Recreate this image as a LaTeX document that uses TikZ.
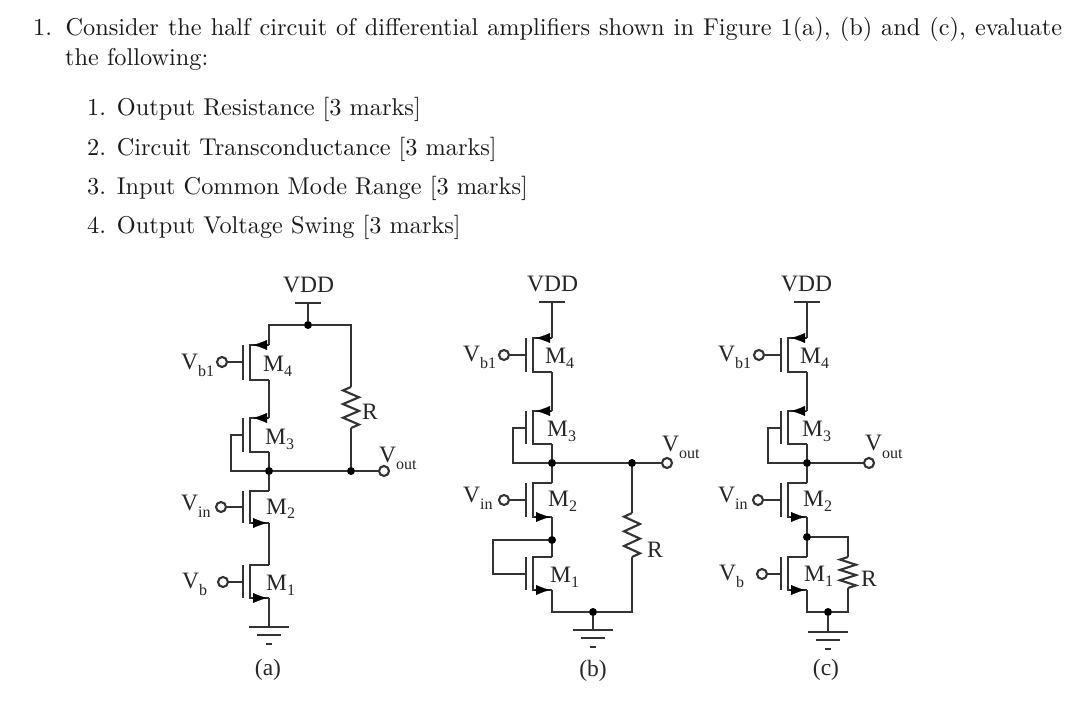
\documentclass[tikz,border=0pt]{standalone}
\usepackage{fontspec}
\usetikzlibrary{arrows.meta}
\newfontfamily\circfont{Liberation Serif}
\newfontfamily\headfont{lmroman10-regular.otf}
\newcommand{\Sig}[1]{V\raisebox{-7pt}{\fontsize{16}{16}\selectfont #1}}
\newcommand{\Dev}[1]{M\raisebox{-5pt}{\fontsize{16}{16}\selectfont #1}}
\tikzset{
	wire/.style={line width=2.1pt, draw=black!80},
	txt/.style={anchor=base west, inner sep=0pt, text=black!90, font=\headfont\fontsize{24.3}{28}\selectfont},
	lab/.style={anchor=base west, inner sep=0pt, text=black!85, font=\circfont\fontsize{23.5}{26}\selectfont},
	figcap/.style={inner sep=0pt, text=black!85, font=\circfont\fontsize{23.5}{26}\selectfont},
	jdot/.style={circle, fill=black, inner sep=0pt, minimum size=8pt},
	term/.style={circle, draw=black!80, fill=white, line width=2.1pt, inner sep=0pt, minimum size=10pt},
	srchead/.style={line width=.1pt, black, -{Latex[length=14pt,width=10pt]}},
}
% name, gate bar x, top y, bottom y
\newcommand{\Pmos}[4]{
	\coordinate (#1top) at (\fpeval{#2+26},#3);
	\coordinate (#1bot) at (\fpeval{#2+26},#4);
	\coordinate (#1gate) at (#2,\fpeval{round(0.5*(#3+#4))});
	\draw[wire] (#2,#3) -- (#2,#4);
	\draw[wire] (#1top) -- (\fpeval{#2+7},#3) -- (\fpeval{#2+7},#4) -- (#1bot);
	\draw[srchead] (\fpeval{#2+25},#3) -- (\fpeval{#2+10},#3);
}
\newcommand{\Nmos}[4]{
	\coordinate (#1top) at (\fpeval{#2+26},#3);
	\coordinate (#1bot) at (\fpeval{#2+26},#4);
	\coordinate (#1gate) at (#2,\fpeval{round(0.5*(#3+#4))});
	\draw[wire] (#2,#3) -- (#2,#4);
	\draw[wire] (#1top) -- (\fpeval{#2+7},#3) -- (\fpeval{#2+7},#4) -- (#1bot);
	\draw[srchead] (\fpeval{#2+9},#4) -- (\fpeval{#2+24},#4);
}
% name, x, top y, bottom y
\newcommand{\Res}[4]{
	\coordinate (#1top) at (#2,#3);
	\coordinate (#1bot) at (#2,#4);
	\draw[wire] (#1top) -- ++(-8,\fpeval{(#4-#3)/12}) -- ++(16,\fpeval{(#4-#3)/6})
		-- ++(-16,\fpeval{(#4-#3)/6}) -- ++(16,\fpeval{(#4-#3)/6})
		-- ++(-16,\fpeval{(#4-#3)/6}) -- ++(16,\fpeval{(#4-#3)/6}) -- (#1bot);
}
% name, x, y
\newcommand{\Supply}[3]{
	\coordinate (#1) at (#2,#3);
	\draw[wire] (\fpeval{#2-13},#3) -- (\fpeval{#2+13},#3);
}
\newcommand{\Ground}[3]{
	\coordinate (#1) at (#2,#3);
	\draw[wire] (\fpeval{#2-20},#3) -- (\fpeval{#2+20},#3);
	\draw[wire] (\fpeval{#2-12},\fpeval{#3+8}) -- (\fpeval{#2+12},\fpeval{#3+8});
	\draw[wire] (\fpeval{#2-3},\fpeval{#3+17}) -- (\fpeval{#2+3},\fpeval{#3+17});
}

\begin{document}
\begin{tikzpicture}[x=1pt,y=-1pt]
	\useasboundingbox (0,0) rectangle (1088,711);
	\fill[white] (0,0) rectangle (1088,711);

	\node[txt] (line1) at (33,36) {\makebox[1029pt][s]{1. Consider the half circuit of differential amplifiers shown in Figure 1(a), (b) and (c), evaluate}};
	\node[txt] (line2) at (65,66) {the following:};
	\node[txt] (item1) at (87,116) {1. Output Resistance [3 marks]};
	\node[txt] (item2) at (87,156) {2. Circuit Transconductance [3 marks]};
	\node[txt] (item3) at (87,195) {3. Input Common Mode Range [3 marks]};
	\node[txt] (item4) at (87,234) {4. Output Voltage Swing [3 marks]};

	% (a)
	\Supply{ta}{308}{303}
	\Pmos{m4a}{243}{345}{380}
	\Pmos{m3a}{243}{418}{452}
	\Nmos{m2a}{243}{491}{523}
	\Nmos{m1a}{243}{565}{598}
	\Res{ra}{351}{387}{428}
	\Ground{ga}{269}{627}
	\node[jdot] (da) at (308,325) {};
	\node[jdot] (db) at (269,471) {};
	\node[jdot] (dc) at (351,471) {};
	\coordinate (fa) at (231,471);
	\node[term] (pa4) at ([xshift=-21pt]m4agate) {};
	\node[term] (pa2) at ([xshift=-22pt]m2agate) {};
	\node[term] (pa1) at ([xshift=-20pt]m1agate) {};
	\node[term] (oa) at (384,471) {};
	\draw[wire] (ta) -- (da);
	\draw[wire] (m4atop) |- (da) -| (ratop);
	\draw[wire] (m4abot) -- (m3atop);
	\draw[wire] (m3agate) -| (fa) -- (db) -- (dc) -- (oa);
	\draw[wire] (m3abot) -- (db) -- (m2atop);
	\draw[wire] (m2abot) -- (m1atop);
	\draw[wire] (m1abot) -- (ga);
	\draw[wire] (rabot) -- (dc);
	\draw[wire] (pa4) -- (m4agate);
	\draw[wire] (pa2) -- (m2agate);
	\draw[wire] (pa1) -- (m1agate);
	\node[lab] (vdda) at (283,293) {VDD};
	\node[lab] (vb1a) at (181,370) {\Sig{b1}};
	\node[lab] (vina) at (181,510) {\Sig{in}};
	\node[lab] (vba) at (182,588) {\Sig{b}};
	\node[lab] (vouta) at (379,462) {\Sig{out}};
	\node[lab] (l4a) at (263,372) {\Dev{4}};
	\node[lab] (l3a) at (265,445) {\Dev{3}};
	\node[lab] (l2a) at (266,514) {\Dev{2}};
	\node[lab] (l1a) at (266,590) {\Dev{1}};
	\node[lab] (lra) at (362,420) {R};
	\node[figcap] (capa) at (268,670) {(a)};

	% (b)
	\Supply{tb}{552}{302}
	\Pmos{m4b}{526}{338}{372}
	\Pmos{m3b}{526}{411}{444}
	\Nmos{m2b}{526}{483}{517}
	\Nmos{m1b}{526}{557}{590}
	\Res{rb}{632}{513}{557}
	\Ground{gb}{593}{630}
	\node[jdot] (ea) at (552,463) {};
	\node[jdot] (eb) at (632,463) {};
	\node[jdot] (ec) at (552,540) {};
	\node[jdot] (ed) at (593,612) {};
	\coordinate (fb) at (513,463);
	\coordinate (fc) at (493,540);
	\node[term] (pb4) at ([xshift=-22pt]m4bgate) {};
	\node[term] (pb2) at ([xshift=-22pt]m2bgate) {};
	\node[term] (ob) at (667,463) {};
	\draw[wire] (tb) -- (m4btop);
	\draw[wire] (m4bbot) -- (m3btop);
	\draw[wire] (m3bgate) -| (fb) -- (ea) -- (eb) -- (ob);
	\draw[wire] (m3bbot) -- (ea) -- (m2btop);
	\draw[wire] (m2bbot) -- (ec) -- (m1btop);
	\draw[wire] (ec) -- (fc) |- (m1bgate);
	\draw[wire] (eb) -- (rbtop);
	\draw[wire] (m1bbot) |- (ed) -| (rbbot);
	\draw[wire] (ed) -- (gb);
	\draw[wire] (pb4) -- (m4bgate);
	\draw[wire] (pb2) -- (m2bgate);
	\node[lab] (vddb) at (527,292) {VDD};
	\node[lab] (vb1b) at (463,362) {\Sig{b1}};
	\node[lab] (vinb) at (463,502) {\Sig{in}};
	\node[lab] (voutb) at (662,452) {\Sig{out}};
	\node[lab] (l4b) at (545,364) {\Dev{4}};
	\node[lab] (l3b) at (547,437) {\Dev{3}};
	\node[lab] (l2b) at (548,507) {\Dev{2}};
	\node[lab] (l1b) at (550,582) {\Dev{1}};
	\node[lab] (lrb) at (647,557) {R};
	\node[figcap] (capb) at (593,671) {(b)};

	% (c)
	\Supply{tc}{807}{302}
	\Pmos{m4c}{781}{338}{372}
	\Pmos{m3c}{781}{411}{444}
	\Nmos{m2c}{781}{483}{517}
	\Nmos{m1c}{781}{557}{590}
	\Res{rc}{848}{557}{588}
	\Ground{gc}{828}{632}
	\node[jdot] (ca) at (807,463) {};
	\node[jdot] (cb) at (807,537) {};
	\node[jdot] (cc) at (828,612) {};
	\coordinate (fd) at (768,463);
	\node[term] (pc4) at ([xshift=-22pt]m4cgate) {};
	\node[term] (pc2) at ([xshift=-23pt]m2cgate) {};
	\node[term] (pc1) at ([xshift=-19pt]m1cgate) {};
	\node[term] (oc) at (869,463) {};
	\draw[wire] (tc) -- (m4ctop);
	\draw[wire] (m4cbot) -- (m3ctop);
	\draw[wire] (m3cgate) -| (fd) -- (ca) -- (oc);
	\draw[wire] (m3cbot) -- (ca) -- (m2ctop);
	\draw[wire] (m2cbot) -- (cb) -- (m1ctop);
	\draw[wire] (cb) -| (rctop);
	\draw[wire] (m1cbot) |- (cc) -| (rcbot);
	\draw[wire] (cc) -- (gc);
	\draw[wire] (pc4) -- (m4cgate);
	\draw[wire] (pc2) -- (m2cgate);
	\draw[wire] (pc1) -- (m1cgate);
	\node[lab] (vddc) at (781,292) {VDD};
	\node[lab] (vb1c) at (718,362) {\Sig{b1}};
	\node[lab] (vinc) at (718,502) {\Sig{in}};
	\node[lab] (vbc) at (719,580) {\Sig{b}};
	\node[lab] (voutc) at (865,451) {\Sig{out}};
	\node[lab] (l4c) at (800,364) {\Dev{4}};
	\node[lab] (l3c) at (802,437) {\Dev{3}};
	\node[lab] (l2c) at (803,507) {\Dev{2}};
	\node[lab] (l1c) at (804,581) {\Dev{1}};
	\node[lab] (lrc) at (861,586) {R};
	\node[figcap] (capc) at (826,670) {(c)};
\end{tikzpicture}
\end{document}
